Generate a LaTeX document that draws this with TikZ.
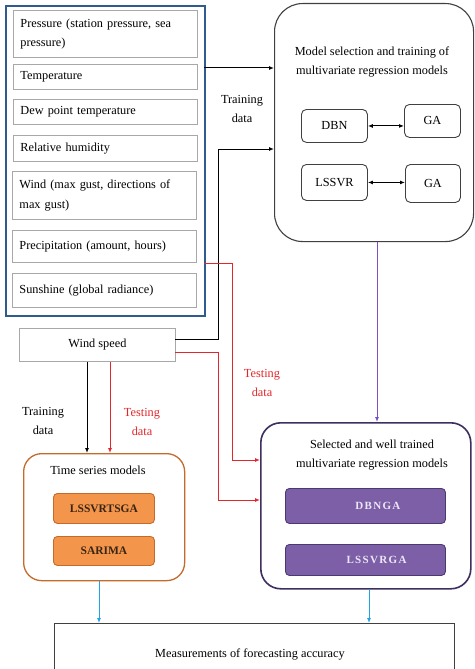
\documentclass[tikz,border=0pt]{standalone}
\usepackage{fontspec}
\setmainfont{Liberation Serif}
\usetikzlibrary{arrows.meta,calc}
\definecolor{bluebord}{HTML}{2F5C8F}
\definecolor{graybord}{HTML}{A8A8A8}
\definecolor{orbord}{HTML}{C46A2A}
\definecolor{orfill}{HTML}{F3964B}
\definecolor{ortext}{HTML}{3A2414}
\definecolor{purfill}{HTML}{7D5FA8}
\definecolor{purbord}{HTML}{4A3A6E}
\definecolor{purtext}{HTML}{EDE6F5}
\definecolor{selbord}{HTML}{3E2F60}
\definecolor{purline}{HTML}{7B4FC8}
\definecolor{skyline}{HTML}{1FA3E8}
\definecolor{redline}{HTML}{E3262B}
\definecolor{dkgray}{HTML}{404040}
\tikzset{
  txt/.style={font=\fontsize{12.3}{19.5}\selectfont},
  inbox/.style={txt, draw=graybord, line width=0.9, anchor=north west,
    minimum width=183, text width=170, align=left, inner xsep=7, inner ysep=0},
  smallbox/.style={txt, draw=dkgray, line width=0.9, rounded corners=5,
    anchor=north west, inner sep=0},
  orbox/.style={font=\fontsize{11.5}{13}\selectfont\bfseries, text=ortext,
    fill=orfill, draw=orbord, line width=0.9, rounded corners=4,
    anchor=north west, minimum width=101, inner sep=0},
  purbox/.style={font=\fontsize{11}{13}\selectfont\bfseries\addfontfeature{LetterSpace=12}, text=purtext,
    fill=purfill, draw=purbord, line width=0.9, rounded corners=4,
    anchor=north west, minimum width=160, inner sep=0},
  arr/.style={line width=1.0, -{Latex[length=5pt,width=4pt]}},
  darr/.style={line width=1.0, {Latex[length=5pt,width=4pt]}-{Latex[length=5pt,width=4pt]}},
  lbl/.style={txt, align=center, inner sep=0}
}
\begin{document}
\begin{tikzpicture}[x=1pt,y=-1pt]
\useasboundingbox (0,0) rectangle (474,669);
\clip (0,0) rectangle (474,669);
\fill[white] (0,0) rectangle (474,669);

% input variables
\node[draw=bluebord, line width=1.6, anchor=north west, minimum width=199,
  minimum height=310, inner sep=0] (inputs) at (5,5) {};
\node[inbox, minimum height=47] (pres) at (13,10) {Pressure (station pressure, sea\\pressure)};
\node[inbox, minimum height=25] (temp) at (13,64) {Temperature};
\node[inbox, minimum height=25] (dew) at (13,99) {Dew point temperature};
\node[inbox, minimum height=26] (rh) at (13,135) {Relative humidity};
\node[inbox, minimum height=48] (windv) at (12,171) {Wind (max gust, directions of\\max gust)};
\node[inbox, minimum height=32] (prec) at (12,230) {Precipitation (amount, hours)};
\node[inbox, minimum height=34] (sun) at (12,273) {Sunshine (global radiance)};

% model selection box
\node[draw=dkgray, line width=1.1, rounded corners=28, anchor=north west,
  minimum width=199, minimum height=238, inner sep=0] (model) at (274,3) {};
\node[lbl] (mtitle) at (372,62) {Model selection and training of\\multivariate regression models};
\node[smallbox, minimum width=66, minimum height=33] (dbn) at (301,109) {DBN};
\node[smallbox, minimum width=56, minimum height=33] (ga1) at (404,104) {GA};
\node[smallbox, minimum width=66, minimum height=36] (lssvr) at (301,164) {LSSVR};
\node[smallbox, minimum width=55, minimum height=38] (ga2) at (405,164) {GA};
\draw[darr] (dbn.east) -- (dbn.east -| ga1.west);
\draw[darr] (lssvr.east) -- (lssvr.east -| ga2.west);

% wind speed
\node[txt, draw=graybord, line width=0.9, anchor=north west, minimum width=156,
  minimum height=33, inner sep=0] (wind) at (19,328) {Wind speed};

% time series models
\node[draw=orbord, line width=1.3, rounded corners=18, anchor=north west,
  minimum width=161, minimum height=127, inner sep=0] (ts) at (23,453) {};
\node[lbl] (tstitle) at (98,470) {Time series models};
\node[orbox, minimum height=30] (lstsga) at (53,493) {LSSVRTSGA};
\node[orbox, minimum height=29] (sarima) at (53,536) {SARIMA};

% selected models
\node[draw=selbord, line width=1.6, rounded corners=20, anchor=north west,
  minimum width=210, minimum height=166, inner sep=0] (sel) at (260,422) {};
\node[lbl] (seltitle) at (372,455) {Selected and well trained\\multivariate regression models};
\node[purbox, minimum height=35, text width=150, align=right] (dbnga) at (285,488) {DBNGA\hspace*{40pt}};
\node[purbox, minimum height=31, text width=150, align=right] (lssvrga) at (285,544) {LSSVRGA\hspace*{34pt}};

% measurements
\node[draw=dkgray, line width=0.9, anchor=north west, minimum width=400,
  minimum height=80, inner sep=0] (meas) at (54,623) {};
\node[lbl] (meastitle) at (250,654) {Measurements of forecasting accuracy};

% labels
\node[lbl] (trainR) at (242,109) {Training\\data};
\node[lbl] (trainL) at (43,421) {Training\\data};
\node[lbl, text=redline] (testL) at (142,422) {Testing\\data};
\node[lbl, text=redline] (testR) at (262,383) {Testing\\data};

% coordinates for connector routing
\coordinate (c1) at (204,68);
\coordinate (c2) at (175,339);
\coordinate (c3) at (218,339);
\coordinate (c4) at (218,149);
\coordinate (c5) at (204,263);
\coordinate (c6) at (232,263);
\coordinate (c7) at (232,460);
\coordinate (c8) at (175,352);
\coordinate (c9) at (218,352);
\coordinate (c10) at (218,500);
\coordinate (xb) at (87,0);
\coordinate (xr) at (110,0);
\coordinate (xp) at (377,0);
\coordinate (xt) at (99,0);
\coordinate (xs) at (369,0);

% connectors
\draw[arr] (c1) -- (c1 -| model.west);
\draw[arr] (c2) -- (c3) -- (c4) -- (c4 -| model.west);
\draw[arr, color=redline] (c5) -- (c6) -- (c7) -- (c7 -| sel.west);
\draw[arr, color=redline] (c8) -- (c9) -- (c10) -- (c10 -| sel.west);
\draw[arr] (wind.south -| xb) -- (ts.north -| xb);
\draw[arr, color=redline] (wind.south -| xr) -- (ts.north -| xr);
\draw[arr, color=purline] (model.south -| xp) -- (sel.north -| xp);
\draw[arr, color=skyline] (ts.south -| xt) -- (meas.north -| xt);
\draw[arr, color=skyline] (sel.south -| xs) -- (meas.north -| xs);
\end{tikzpicture}
\end{document}
